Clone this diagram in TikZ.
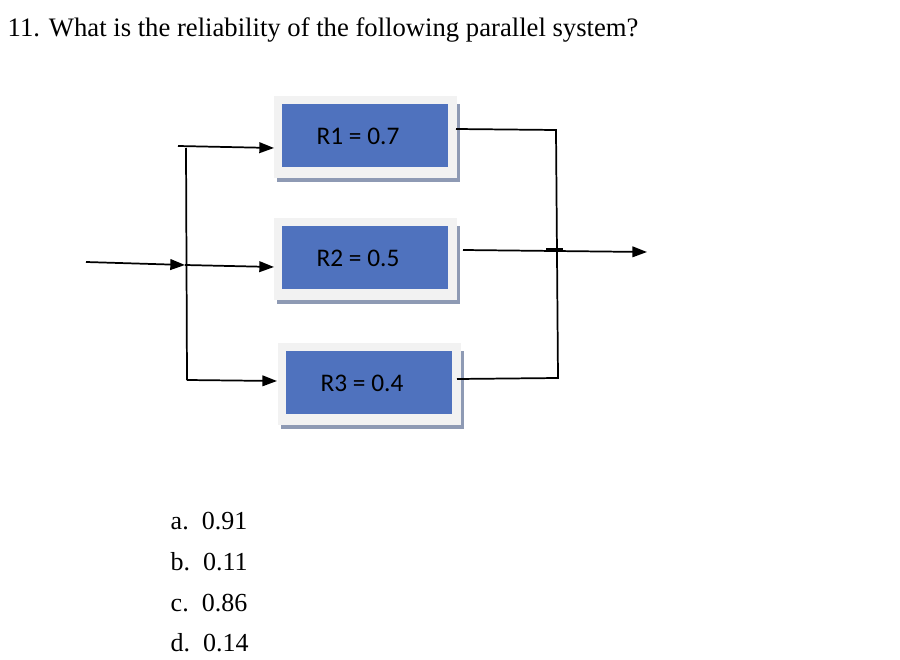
\documentclass[tikz,border=0pt]{standalone}
\usetikzlibrary{arrows.meta}
\usepackage{fontspec}
\setmainfont{Liberation Serif}
\newfontfamily\calib{Carlito}
\definecolor{boxblue}{HTML}{4F72BE}
\definecolor{boxframe}{HTML}{F2F2F2}
\definecolor{boxshadow}{HTML}{8E9AB4}
\begin{document}
\begin{tikzpicture}[x=0.75pt,y=-0.75pt,
  wire/.style={line width=1.3pt},
  arr/.style={wire,-{Triangle[length=11pt,width=8pt]}},
  lbl/.style={font=\calib\fontsize{19}{22}\selectfont,text=black},
  ans/.style={anchor=west,font=\fontsize{19.5}{22}\selectfont}]
\useasboundingbox (0,0) rectangle (900,660);
\node[anchor=west,font=\fontsize{20}{24}\selectfont] (title) at (3,30) {11. What is the reliability of the following parallel system?};
% boxes
\foreach \n/\dx/\y/\t in {b1/0/96/R1 = 0.7, b2/0/218/R2 = 0.5, b3/4/343/R3 = 0.4}{
  \fill[boxshadow] (277+\dx,\y+8) rectangle (460+\dx,\y+86);
  \fill[boxframe] (274+\dx,\y) rectangle (457+\dx,\y+82);
  \fill[boxblue] (282+\dx,\y+8) rectangle (448+\dx,\y+71);
  \node[lbl] (\n) at (358+\dx,\y+40) {\t};
}
\coordinate (in) at (86,262);
\coordinate (j) at (185,265);
\coordinate (t1) at (178,146);
\coordinate (v1) at (186,148);
\coordinate (v3) at (187,380);
\coordinate (e1) at (274,148);
\coordinate (e2) at (274,267);
\coordinate (e3) at (277,381);
\draw[arr] (in) -- (j);
\draw[arr] (j) -- (e2);
\draw[arr] (t1) -- (e1);
\draw[wire] (v1) -- (v3);
\draw[arr] (v3) -- (e3);
\coordinate (o1) at (456,129);
\coordinate (r1) at (556,130);
\coordinate (r3) at (558,378);
\coordinate (o3) at (457,379);
\draw[wire] (o1) -- (r1) -- (r3) -- (o3);
\coordinate (o2) at (463,250);
\coordinate (out) at (647,252);
\draw[arr] (o2) -- (out);
\draw[line width=2pt] (546,249) -- (563,249);
\node[ans] (a) at (166,521) {a.\ \ 0.91};
\node[ans] (b) at (166,562) {b.\ \ 0.11};
\node[ans] (c) at (166,603) {c.\ \ 0.86};
\node[ans] (d) at (166,643) {d.\ \ 0.14};
\end{tikzpicture}
\end{document}
